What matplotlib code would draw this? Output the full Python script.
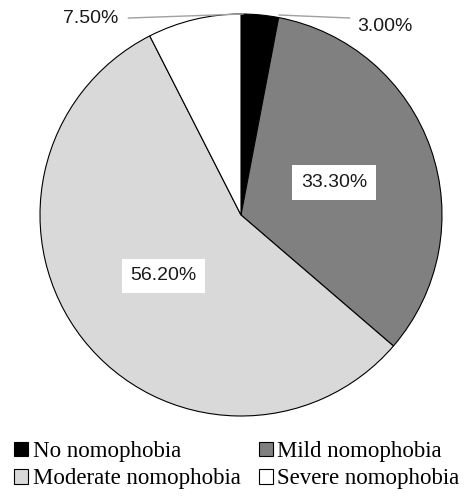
import matplotlib.pyplot as plt
import matplotlib.patches as mpatches
import numpy as np

# data
categories = ["No nomophobia", "Mild nomophobia", "Moderate nomophobia", "Severe nomophobia"]
values = [3.00, 33.30, 56.20, 7.50]
colors = ["#000000", "#808080", "#d9d9d9", "#ffffff"]

fig = plt.figure(figsize=(4.74, 5.03), dpi=100)

# pie axes: centre ~ (241, 215) px from top, radius ~201 px
cx, cy, r = 241, 503 - 215, 201
ax = fig.add_axes([(cx - r) / 474, (cy - r) / 503, 2 * r / 474, 2 * r / 503])

wedges, _ = ax.pie(values, colors=colors, startangle=90, counterclock=False,
                   wedgeprops=dict(edgecolor="black", linewidth=0.8))
ax.set_xlim(-1, 1)
ax.set_ylim(-1, 1)
ax.set_aspect("auto")

lab_font = dict(family="Liberation Sans", fontsize=14, color="#1a1a1a")

# inside labels for the big slices
for w, v in zip(wedges, values):
    mid = np.deg2rad((w.theta1 + w.theta2) / 2)
    if v > 20:
        d = 0.49
        ax.text(d * np.cos(mid), d * np.sin(mid), f"{v:.2f}%", ha="center", va="center",
                bbox=dict(boxstyle="square,pad=0.45", fc="white", ec="none"), **lab_font)

# outside labels with leader lines for the small slices
ax.plot([0.19, 0.54], [0.995, 0.98], color="#a0a0a0", lw=1, clip_on=False)
ax.text(0.58, 0.94, f"{values[0]:.2f}%", ha="left", va="center", **lab_font)
ax.plot([0.01, -0.56], [1.0, 0.98], color="#a0a0a0", lw=1, clip_on=False)
ax.text(-0.61, 0.98, f"{values[3]:.2f}%", ha="right", va="center", **lab_font)

# legend, filled row by row (matplotlib fills columns first)
order = [0, 2, 1, 3]
handles = [mpatches.Patch(facecolor=colors[i], edgecolor="black", linewidth=0.8) for i in order]
fig.legend(handles, [categories[i] for i in order], ncol=2, loc="lower center",
           bbox_to_anchor=(0.5, -0.014),
           frameon=False, prop=dict(family="Liberation Serif", size=16.5),
           handlelength=0.6, handleheight=0.6, handletextpad=0.2, columnspacing=0.8,
           labelspacing=0.28)

fig.savefig("out.png", dpi=100)
